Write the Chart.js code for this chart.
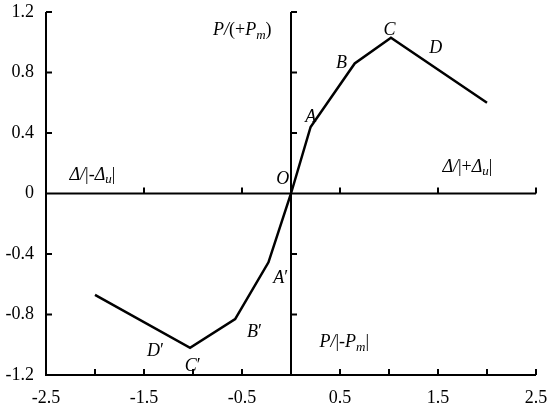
<!DOCTYPE html>
<html>
<head>
<meta charset="utf-8">
<script src="https://cdn.jsdelivr.net/npm/chart.js@4.4.1/dist/chart.umd.min.js"></script>
<style>
html,body{margin:0;padding:0;background:#fff;}
#wrap{width:550px;height:410px;}
</style>
</head>
<body>
<div id="wrap"><canvas id="c" width="550" height="410"></canvas></div>
<script>
// Skeleton curve (normalized displacement, normalized load)
const xValues = [-2.0, -1.03, -0.57, -0.23, 0, 0.2, 0.65, 1.02, 2.0];
const yValues = [-0.67, -1.02, -0.83, -0.455, 0, 0.44, 0.86, 1.03, 0.6];
const xTickLabels = ['-2.5', '-1.5', '-0.5', '0.5', '1.5', '2.5'];
const yTickLabels = ['-1.2', '-0.8', '-0.4', '0', '0.4', '0.8', '1.2'];
const pointNames = ["D'", "C'", "B'", "A'", 'O', 'A', 'B', 'C', 'D'];

const SERIF = '"Liberation Serif","Times New Roman",serif';
const FS = 18;

// Label anchors (data coords) and rich texts
const annotations = [
  {x: -1.47, y: -1.045, parts: [{t: "D"}, {t: "′", up: true}]},
  {x: -1.085, y: -1.145, parts: [{t: "C"}, {t: "′", up: true}]},
  {x: -0.45, y: -0.915, parts: [{t: "B"}, {t: "′", up: true}]},
  {x: -0.18, y: -0.56, parts: [{t: "A"}, {t: "′", up: true}]},
  {x: -0.15, y: 0.095, parts: [{t: "O"}]},
  {x: 0.145, y: 0.505, parts: [{t: "A"}]},
  {x: 0.46, y: 0.86, parts: [{t: "B"}]},
  {x: 0.945, y: 1.08, parts: [{t: "C"}]},
  {x: 1.41, y: 0.96, parts: [{t: "D"}]}
];
const axisTitles = [
  {x: -2.26, y: 0.123, parts: [{t: "Δ/"}, {t: "|-", up: true}, {t: "Δ"}, {t: "u", sub: true}, {t: "|", up: true}]},
  {x: 1.545, y: 0.175, parts: [{t: "Δ/"}, {t: "|+", up: true}, {t: "Δ"}, {t: "u", sub: true}, {t: "|", up: true}]},
  {x: -0.795, y: 1.08, parts: [{t: "P/"}, {t: "(+", up: true}, {t: "P"}, {t: "m", sub: true}, {t: ")", up: true}]},
  {x: 0.29, y: -0.985, parts: [{t: "P/"}, {t: "|-", up: true}, {t: "P"}, {t: "m", sub: true}, {t: "|", up: true}]}
];

function drawRich(ctx, x, y, parts) {
  ctx.textBaseline = 'middle';
  ctx.textAlign = 'left';
  let cx = x;
  for (const p of parts) {
    const size = p.sub ? 13 : FS;
    ctx.font = (p.up ? '' : 'italic ') + size + 'px ' + SERIF;
    const dy = p.sub ? 5 : 0;
    ctx.fillText(p.t, cx, y + dy);
    cx += ctx.measureText(p.t).width;
  }
}

const axesPlugin = {
  id: 'customAxes',
  afterDatasetsDraw(chart) {
    const ctx = chart.ctx;
    const xs = chart.scales.x, ys = chart.scales.y;
    const L = xs.getPixelForValue(-2.5), R = xs.getPixelForValue(2.5);
    const T = ys.getPixelForValue(1.2), B = ys.getPixelForValue(-1.2);
    const X0 = xs.getPixelForValue(0), Y0 = ys.getPixelForValue(0);
    ctx.save();
    ctx.strokeStyle = '#000';
    ctx.lineWidth = 2;
    ctx.lineCap = 'butt';
    ctx.beginPath();
    ctx.moveTo(L, T); ctx.lineTo(L, B); ctx.lineTo(R, B);
    ctx.moveTo(L, Y0); ctx.lineTo(R, Y0);
    ctx.moveTo(X0, T); ctx.lineTo(X0, B);
    const tl = 6;
    for (let v = -1.2; v <= 1.2001; v += 0.4) {
      const py = ys.getPixelForValue(v);
      ctx.moveTo(L, py); ctx.lineTo(L + tl, py);
      if (Math.abs(v) > 0.01 && v > -1.1) { ctx.moveTo(X0, py); ctx.lineTo(X0 + tl, py); }
    }
    for (let v = -2.0; v <= 2.5001; v += 0.5) {
      const px = xs.getPixelForValue(v);
      if (Math.abs(v) < 0.01) continue;
      ctx.moveTo(px, B); ctx.lineTo(px, B - tl);
    }
    for (let v = -1.5; v <= 2.5001; v += 1) {
      const px = xs.getPixelForValue(v);
      ctx.moveTo(px, Y0); ctx.lineTo(px, Y0 - tl);
    }
    ctx.stroke();

    ctx.fillStyle = '#000';
    for (const a of annotations.concat(axisTitles)) {
      drawRich(ctx, xs.getPixelForValue(a.x), ys.getPixelForValue(a.y), a.parts);
    }
    ctx.restore();
  }
};

const data = xValues.map((x, i) => ({x: x, y: yValues[i]}));

new Chart(document.getElementById('c'), {
  type: 'scatter',
  data: {
    datasets: [{
      data: data,
      showLine: true,
      borderColor: '#000',
      borderWidth: 2.5,
      pointRadius: 0,
      fill: false,
      tension: 0
    }]
  },
  options: {
    responsive: false,
    animation: false,
    layout: {padding: {top: 12, right: 14, left: 0, bottom: 0}},
    plugins: {legend: {display: false}, tooltip: {enabled: false}},
    scales: {
      x: {
        type: 'linear', min: -2.5, max: 2.5,
        afterBuildTicks(scale) {
          scale.ticks = xTickLabels.map(s => ({value: parseFloat(s)}));
        },
        afterFit(scale) { scale.height = 35; scale.paddingLeft = 0; scale.paddingRight = 0; },
        grid: {display: false, drawTicks: false},
        border: {display: false},
        ticks: {
          padding: 12, color: '#000', maxRotation: 0, autoSkip: false,
          font: {family: SERIF, size: FS},
          callback: (v) => xTickLabels.find(s => Math.abs(parseFloat(s) - v) < 1e-6) || ''
        }
      },
      y: {
        type: 'linear', min: -1.2, max: 1.2,
        afterBuildTicks(scale) {
          scale.ticks = yTickLabels.map(s => ({value: parseFloat(s)}));
        },
        afterFit(scale) { scale.width = 46; scale.paddingTop = 0; scale.paddingBottom = 0; },
        grid: {display: false, drawTicks: false},
        border: {display: false},
        ticks: {
          padding: 12, color: '#000', autoSkip: false,
          font: {family: SERIF, size: FS},
          callback: (v) => yTickLabels.find(s => Math.abs(parseFloat(s) - v) < 1e-6) || ''
        }
      }
    }
  },
  plugins: [axesPlugin]
});
</script>
</body>
</html>
